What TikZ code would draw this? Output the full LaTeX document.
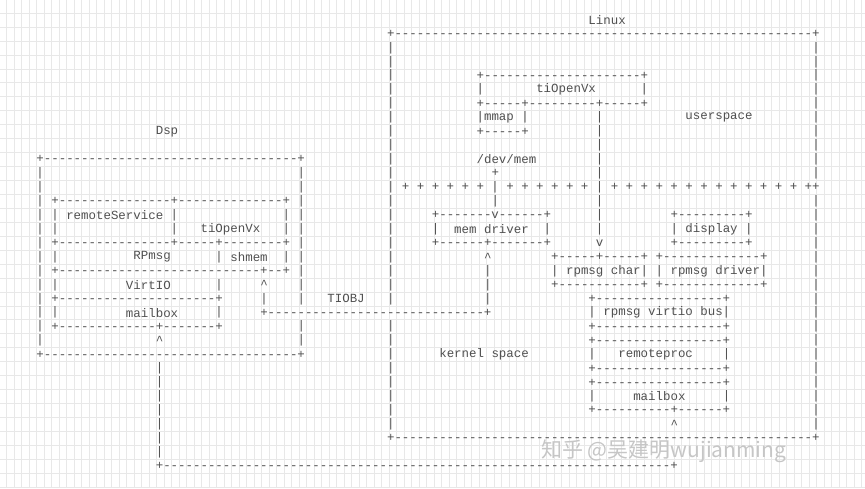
\documentclass[tikz,border=0pt]{standalone}
\usepackage{fontspec}
\setmonofont{Liberation Mono}
\newfontfamily\cjk{Noto Sans CJK SC}
\usepackage{xcolor}
\definecolor{ink}{HTML}{505050}
\definecolor{gridc}{HTML}{E8E8E8}
\newcommand\T[3]{\node[txt] at ({36.25+7.46*#1},{20+13.94*#2}) {#3};}
\newcommand\Dd[1]{\foreach \i in {1,...,#1}{-}}
\newcommand\car{\textasciicircum}
\begin{document}
\begin{tikzpicture}[x=1pt,y=-1pt,
  txt/.style={anchor=west,inner sep=0pt,font=\ttfamily\fontsize{12.43}{12.43}\selectfont,text=ink}]
\useasboundingbox (0,0) rectangle (865,488);
\fill[white] (0,0) rectangle (865,488);
\foreach \k in {0,...,115} {\draw[gridc,line width=0.5pt] ({6.25+7.5*\k},0) -- ({6.25+7.5*\k},488);}
\foreach \k in {0,...,35} {\draw[gridc,line width=0.5pt] (0,{13.03+13.94*\k}) -- (865,{13.03+13.94*\k});}
% ---------------- Linux
\T{74}{0}{Linux}
\T{47}{1}{+\Dd{56}+}
\foreach \r in {2,...,11,13,14,...,20,22,23,...,29} {\T{47}{\r}{|}\T{104}{\r}{|}}
\T{104}{21}{|}
\T{59}{4}{+\Dd{21}+}
\T{59}{5}{|}\T{67}{5}{tiOpenVx}\T{81}{5}{|}
\T{59}{6}{+\Dd{5}+\Dd{9}+\Dd{5}+}
\T{59}{7}{|mmap |}\T{87}{7}{userspace}
\T{59}{8}{+\Dd{5}+}
\foreach \r in {7,...,11,13,14,15} {\T{75}{\r}{|}}
\T{59}{10}{/dev/mem}
\T{61}{11}{+}
\T{47}{12}{| + + + + + + | + + + + + + | + + + + + + + + + + + + + ++}
\T{61}{13}{|}
\T{53}{14}{+\Dd{7}v\Dd{6}+}
\T{85}{14}{+\Dd{9}+}
\T{53}{15}{|}\T{56}{15}{mem driver}\T{68}{15}{|}
\T{85}{15}{|}\T{87}{15}{display}\T{95}{15}{|}
\T{53}{16}{+\Dd{6}+\Dd{7}+}
\T{75}{16}{v}
\T{85}{16}{+\Dd{9}+}
\T{60}{17}{\car}
\T{69}{17}{+\Dd{5}+\Dd{5}+}
\T{83}{17}{+\Dd{13}+}
\foreach \r in {18,19,20} {\T{60}{\r}{|}}
\T{69}{18}{|}\T{71}{18}{rpmsg char|}
\T{83}{18}{|}\T{85}{18}{rpmsg driver|}
\T{69}{19}{+\Dd{11}+}
\T{83}{19}{+\Dd{13}+}
\T{74}{20}{+\Dd{17}+}
\T{74}{21}{|}\T{76}{21}{rpmsg virtio bus|}
\T{74}{22}{+\Dd{17}+}
\T{74}{23}{+\Dd{17}+}
\T{54}{24}{kernel space}
\T{74}{24}{|}\T{78}{24}{remoteproc}\T{92}{24}{|}
\T{74}{25}{+\Dd{17}+}
\T{74}{26}{+\Dd{17}+}
\T{74}{27}{|}\T{80}{27}{mailbox}\T{92}{27}{|}
\T{74}{28}{+\Dd{10}+\Dd{6}+}
\T{85}{29}{\car}
\T{47}{30}{+\Dd{56}+}
% ---------------- Dsp
\T{16}{8}{Dsp}
\T{0}{10}{+\Dd{34}+}
\foreach \r in {11,...,20,22,23} {\T{0}{\r}{|}\T{35}{\r}{|}}
\T{0}{21}{|}
\T{2}{13}{+\Dd{15}+\Dd{14}+}
\T{2}{14}{|}\T{4}{14}{remoteService}\T{18}{14}{|}\T{33}{14}{|}
\T{2}{15}{|}\T{18}{15}{|}\T{22}{15}{tiOpenVx}\T{33}{15}{|}
\T{2}{16}{+\Dd{15}+\Dd{5}+\Dd{8}+}
\T{2}{17}{|}\T{13}{17}{RPmsg}\T{24}{17}{|}\T{26}{17}{shmem}\T{33}{17}{|}
\T{2}{18}{+\Dd{27}+\Dd{2}+}
\T{2}{19}{|}\T{12}{19}{VirtIO}\T{24}{19}{|}\T{30}{19}{\car}
\T{2}{20}{+\Dd{21}+}\T{30}{20}{|}\T{39}{20}{TIOBJ}
\T{2}{21}{|}\T{12}{21}{mailbox}\T{24}{21}{|}
\T{30}{21}{+\Dd{29}+}
\T{2}{22}{+\Dd{13}+\Dd{7}+}
\T{16}{23}{\car}
\T{0}{24}{+\Dd{34}+}
\foreach \r in {25,...,31} {\T{16}{\r}{|}}
\T{16}{32}{+\Dd{68}+}
% watermark
\node[anchor=west,inner sep=0pt,text=gray!45,font=\cjk\fontsize{21}{21}\selectfont] at (541,451) {知乎 @吴建明wujianming};
\end{tikzpicture}
\end{document}
